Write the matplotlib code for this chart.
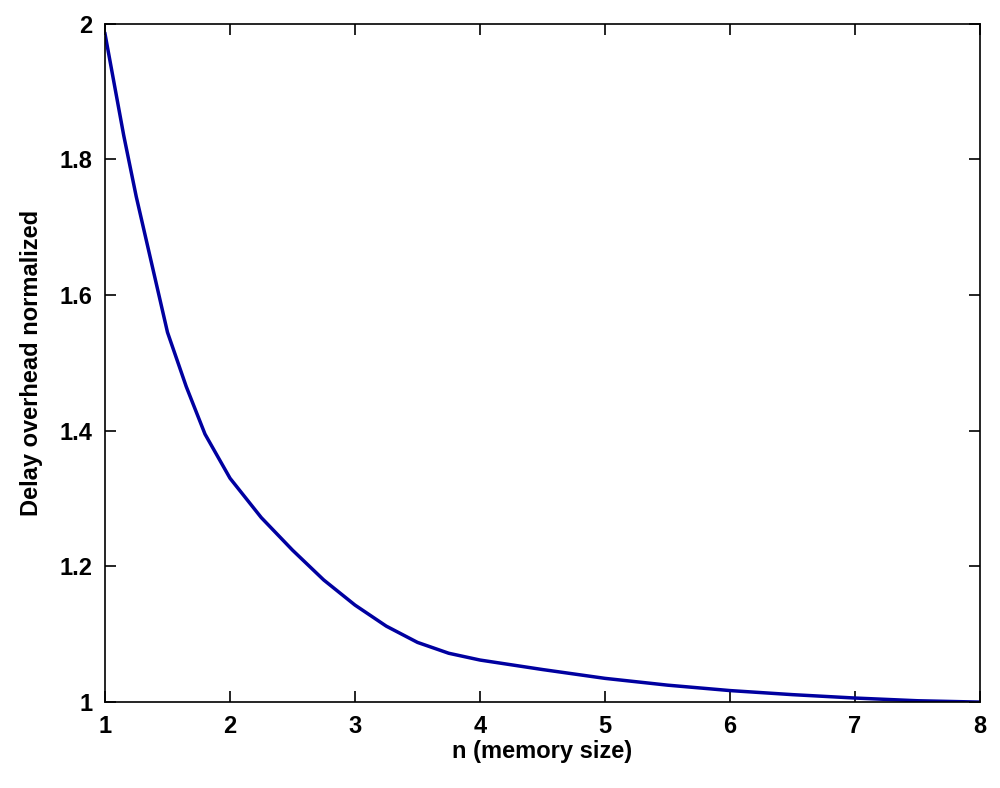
import matplotlib
matplotlib.use("Agg")
import matplotlib.pyplot as plt

n_vals = [1.0, 1.05, 1.1, 1.15, 1.25, 1.35, 1.5, 1.65, 1.8, 2.0, 2.25, 2.5, 2.75, 3.0, 3.25, 3.5, 3.75, 4.0, 4.5, 5.0, 5.5, 6.0, 6.5, 7.0, 7.5, 8.0]
delay = [1.985, 1.935, 1.885, 1.835, 1.745, 1.665, 1.545, 1.465, 1.395, 1.33, 1.272, 1.224, 1.18, 1.143, 1.112, 1.088, 1.072, 1.062, 1.048, 1.035, 1.025, 1.017, 1.011, 1.006, 1.002, 1.0]
xticks = [1, 2, 3, 4, 5, 6, 7, 8]
yticks = [1, 1.2, 1.4, 1.6, 1.8, 2]

plt.rcParams['font.family'] = ['Liberation Sans', 'DejaVu Sans']
fig = plt.figure(figsize=(10, 7.88), dpi=100)
ax = fig.add_axes([0.105, 0.109, 0.875, 0.861])
ax.plot(n_vals, delay, color='#0000a0', lw=2.5)
ax.set_xlim(1, 8)
ax.set_ylim(1, 2)
ax.set_xticks(xticks)
ax.set_yticks(yticks)
ax.set_yticklabels(['1', '1.2', '1.4', '1.6', '1.8', '2'])
ax.tick_params(direction='in', top=True, right=True, labelsize=17, length=8, width=1.2, pad=9)
for lab in ax.get_xticklabels() + ax.get_yticklabels():
    lab.set_fontweight('bold')
for s in ax.spines.values():
    s.set_linewidth(1.2)
ax.set_xlabel('n (memory size)', fontsize=17, fontweight='bold', labelpad=2)
ax.set_ylabel('Delay overhead normalized', fontsize=17, fontweight='bold', labelpad=12)
fig.savefig('out.png', dpi=100)
